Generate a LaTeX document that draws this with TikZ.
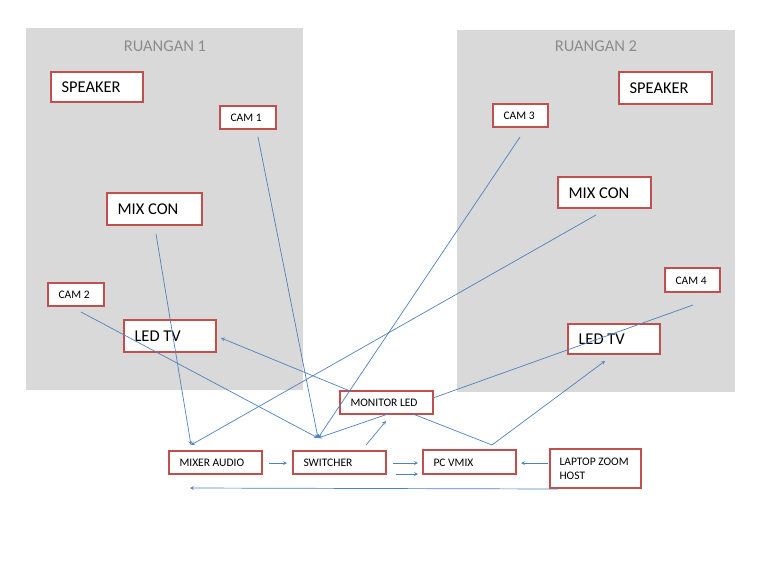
\documentclass[tikz,border=0pt]{standalone}
\usepackage{fontspec}
\setmainfont{Carlito}
\begin{document}
\begin{tikzpicture}[x=1pt,y=-1pt,
  box/.style={draw=boxred,fill=white,line width=1.4pt,inner sep=0pt},
  big/.style={font=\fontsize{16.5}{18}\selectfont},
  small/.style={font=\fontsize{11.5}{14}\selectfont},
  ar/.style={draw=lineblue,line width=0.7pt,-stealth},
  ln/.style={draw=lineblue,line width=0.7pt}]
\definecolor{boxred}{HTML}{C0504D}
\definecolor{lineblue}{HTML}{4F81BD}
\definecolor{roomgray}{HTML}{D9D9D9}
\useasboundingbox (0,0) rectangle (768,576);
\fill[roomgray] (26,28) rectangle (303,390);
\fill[roomgray] (457,30) rectangle (735,392);
\node[text=black!45,font=\fontsize{16.5}{18}\selectfont] (r1) at (165,46) {RUANGAN 1};
\node[text=black!45,font=\fontsize{16.5}{18}\selectfont] (r2) at (596,46) {RUANGAN 2};
\newcommand{\bx}[7]{\draw[box] (#2,#3) rectangle (#4,#5); \node[#6,anchor=west] (#1) at (#2+7,{(#3+#5)/2+0.5}) {#7};}
\bx{spk1}{51}{72}{143}{102}{big}{SPEAKER}
\bx{spk2}{619}{72}{712}{104}{big}{SPEAKER}
\bx{cam1}{220}{106}{276}{129}{small}{CAM 1}
\bx{cam3}{493}{104}{548}{127}{small}{CAM 3}
\bx{mix1}{107}{193}{202}{225}{big}{MIX CON}
\bx{mix2}{558}{177}{651}{208}{big}{MIX CON}
\bx{cam2}{48}{283}{104}{306}{small}{CAM 2}
\bx{cam4}{665}{268}{720}{292}{small}{CAM 4}
\bx{led1}{124}{320}{216}{352}{big}{LED TV}
\bx{led2}{568}{324}{660}{354}{big}{LED TV}
\bx{mon}{340}{391}{433}{414}{small}{MONITOR LED}
\bx{mxa}{169}{451}{262}{474}{small}{MIXER AUDIO}
\bx{sw}{293}{451}{386}{474}{small}{SWITCHER}
\bx{pc}{423}{450}{516}{474}{small}{PC VMIX}
\draw[box] (550,449) rectangle (641,488);
\node[small,anchor=west,align=left] (lap) at (556,469) {LAPTOP ZOOM\\HOST};
\coordinate (c1) at (258,137); \coordinate (c3) at (520,137);
\coordinate (m2) at (596,215); \coordinate (m1) at (156,234);
\coordinate (c2) at (81,312); \coordinate (c4) at (693,305);
\coordinate (swt) at (318,438); \coordinate (mxt) at (191,445);
\coordinate (monl) at (350,391); \coordinate (led1a) at (221,338);
\coordinate (monr) at (433,398); \coordinate (monb) at (388,414);
\coordinate (mont) at (386,421); \coordinate (swu) at (366,445);
\coordinate (monb2) at (413,414); \coordinate (v) at (492,445);
\coordinate (led2a) at (605,361);
\draw[ar] (c1) -- (swt);
\draw[ar] (c3) -- (swt);
\draw[ar] (c2) -- (swt);
\draw[ar] (monb) -- (swt);
\draw[ar] (m2) -- (mxt);
\draw[ar] (m1) -- (mxt);
\draw[ar] (monl) -- (led1a);
\draw[ln] (monr) -- (c4);
\draw[ar] (swu) -- (mont);
\draw[ar] (monb2) -- (v) -- (led2a);
\draw[ar] (269,463) -- (287,463);
\draw[ar] (393,463) -- (418,463);
\draw[ar] (396,474) -- (418,474);
\draw[ar] (548,463) -- (521,463);
\draw[ar] (558,489) -- (190,488);
\end{tikzpicture}
\end{document}
